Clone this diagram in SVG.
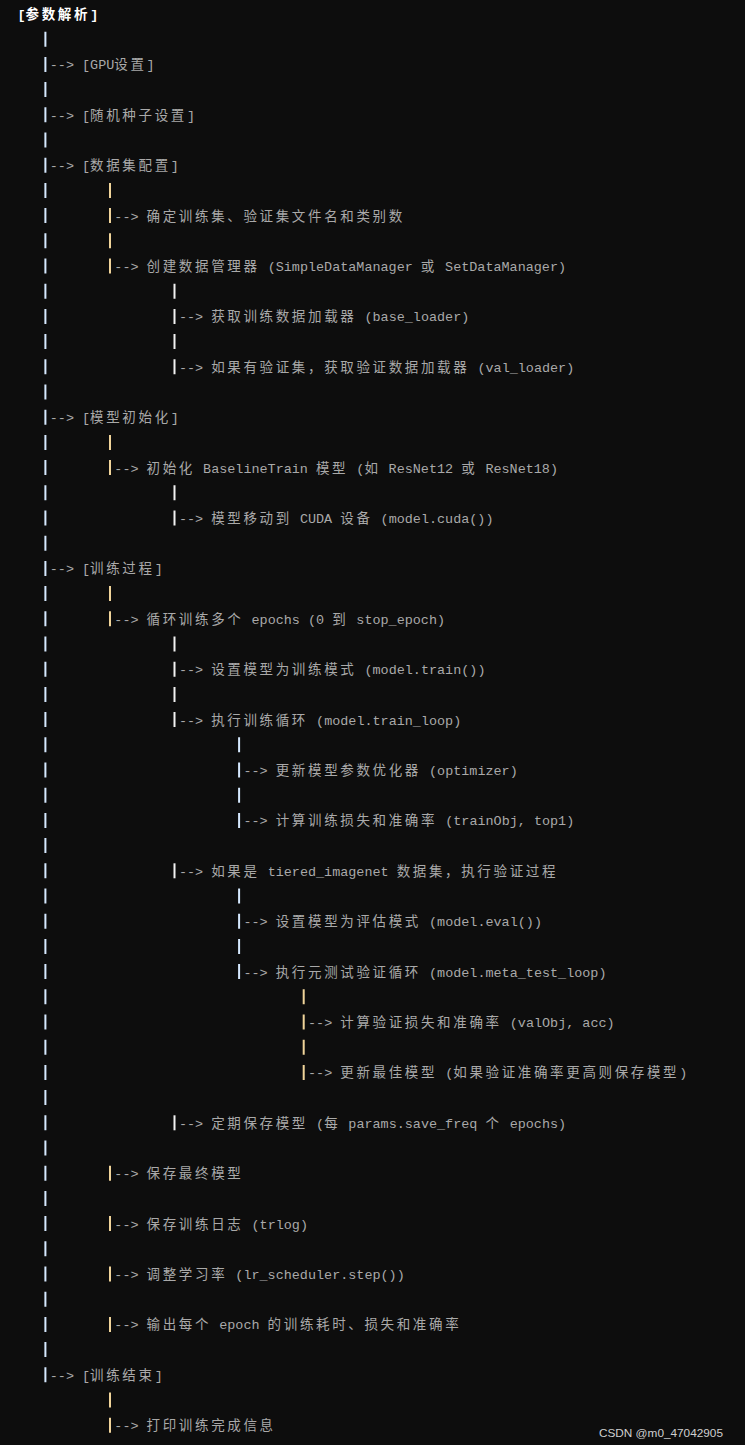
<svg xmlns="http://www.w3.org/2000/svg" width="745" height="1445" viewBox="0 0 745 1445">
<style>
.t{font-family:"Liberation Mono","DejaVu Sans Mono",monospace;font-size:13.45px;fill:#a9a9a9;white-space:pre}
.h{font-family:"Liberation Mono","DejaVu Sans Mono",monospace;font-size:13.45px;fill:#ffffff;font-weight:700;white-space:pre}
.z{font-family:"Noto Sans CJK SC","Noto Sans CJK JP",sans-serif;font-size:13.5px;letter-spacing:2.64px}
.p{stroke-width:2;stroke-dasharray:15 10.2;fill:none}
.p0{stroke:#d6e9ff}.p1{stroke:#f0d49a}.p2{stroke:#f2f2f2}.p3{stroke:#d6e9ff}.p4{stroke:#f0d49a}
.wm{font-family:"Liberation Sans","Noto Sans",sans-serif;font-size:11.8px;fill:#cfcfcf}
</style>
<rect x="0" y="0" width="745" height="1445" fill="#0d0d0d"/>
<g id="connectors">
<line class="p p0" x1="45.4" y1="31.7" x2="45.4" y2="1382.3"/>
<line class="p p1" x1="110" y1="182.9" x2="110" y2="273.5"/>
<line class="p p1" x1="110" y1="434.9" x2="110" y2="475.1"/>
<line class="p p1" x1="110" y1="586.1" x2="110" y2="626.3"/>
<line class="p p1" x1="110" y1="1165.7" x2="110" y2="1180.7"/>
<line class="p p1" x1="110" y1="1216.1" x2="110" y2="1231.1"/>
<line class="p p1" x1="110" y1="1266.5" x2="110" y2="1281.5"/>
<line class="p p1" x1="110" y1="1316.9" x2="110" y2="1331.9"/>
<line class="p p1" x1="110" y1="1392.5" x2="110" y2="1432.7"/>
<line class="p p2" x1="174.5" y1="283.7" x2="174.5" y2="374.3"/>
<line class="p p2" x1="174.5" y1="485.3" x2="174.5" y2="525.5"/>
<line class="p p2" x1="174.5" y1="636.5" x2="174.5" y2="727.1"/>
<line class="p p2" x1="174.5" y1="863.3" x2="174.5" y2="878.3"/>
<line class="p p2" x1="174.5" y1="1115.3" x2="174.5" y2="1130.3"/>
<line class="p p3" x1="239.1" y1="737.3" x2="239.1" y2="827.9"/>
<line class="p p3" x1="239.1" y1="888.5" x2="239.1" y2="979.1"/>
<line class="p p4" x1="303.7" y1="989.3" x2="303.7" y2="1079.9"/>
</g>
<g id="root"><text class="h" x="17.5" y="19">[<tspan class="z">参数解析</tspan>]</text></g>
<g id="gpu"><text class="t" x="49.78" y="69.4">--&gt; [GPU<tspan class="z">设置</tspan>]</text></g>
<g id="seed"><text class="t" x="49.78" y="119.8">--&gt; [<tspan class="z">随机种子设置</tspan>]</text></g>
<g id="dataset"><text class="t" x="49.78" y="170.2">--&gt; [<tspan class="z">数据集配置</tspan>]</text></g>
<g id="files"><text class="t" x="114.34" y="220.6">--&gt; <tspan class="z">确定训练集、验证集文件名和类别数</tspan></text></g>
<g id="manager"><text class="t" x="114.34" y="271">--&gt; <tspan class="z">创建数据管理器</tspan> (SimpleDataManager <tspan class="z">或</tspan> SetDataManager)</text></g>
<g id="baseloader"><text class="t" x="178.9" y="321.4">--&gt; <tspan class="z">获取训练数据加载器</tspan> (base_loader)</text></g>
<g id="valloader"><text class="t" x="178.9" y="371.8">--&gt; <tspan class="z">如果有验证集，获取验证数据加载器</tspan> (val_loader)</text></g>
<g id="modelinit"><text class="t" x="49.78" y="422.2">--&gt; [<tspan class="z">模型初始化</tspan>]</text></g>
<g id="baseline"><text class="t" x="114.34" y="472.6">--&gt; <tspan class="z">初始化</tspan> BaselineTrain <tspan class="z">模型</tspan> (<tspan class="z">如</tspan> ResNet12 <tspan class="z">或</tspan> ResNet18)</text></g>
<g id="cuda"><text class="t" x="178.9" y="523">--&gt; <tspan class="z">模型移动到</tspan> CUDA <tspan class="z">设备</tspan> (model.cuda())</text></g>
<g id="training"><text class="t" x="49.78" y="573.4">--&gt; [<tspan class="z">训练过程</tspan>]</text></g>
<g id="epochs"><text class="t" x="114.34" y="623.8">--&gt; <tspan class="z">循环训练多个</tspan> epochs (0 <tspan class="z">到</tspan> stop_epoch)</text></g>
<g id="trainmode"><text class="t" x="178.9" y="674.2">--&gt; <tspan class="z">设置模型为训练模式</tspan> (model.train())</text></g>
<g id="trainloop"><text class="t" x="178.9" y="724.6">--&gt; <tspan class="z">执行训练循环</tspan> (model.train_loop)</text></g>
<g id="optimizer"><text class="t" x="243.46" y="775">--&gt; <tspan class="z">更新模型参数优化器</tspan> (optimizer)</text></g>
<g id="trainloss"><text class="t" x="243.46" y="825.4">--&gt; <tspan class="z">计算训练损失和准确率</tspan> (trainObj, top1)</text></g>
<g id="tiered"><text class="t" x="178.9" y="875.8">--&gt; <tspan class="z">如果是</tspan> tiered_imagenet <tspan class="z">数据集，执行验证过程</tspan></text></g>
<g id="evalmode"><text class="t" x="243.46" y="926.2">--&gt; <tspan class="z">设置模型为评估模式</tspan> (model.eval())</text></g>
<g id="metatest"><text class="t" x="243.46" y="976.6">--&gt; <tspan class="z">执行元测试验证循环</tspan> (model.meta_test_loop)</text></g>
<g id="valloss"><text class="t" x="308.02" y="1027">--&gt; <tspan class="z">计算验证损失和准确率</tspan> (valObj, acc)</text></g>
<g id="best"><text class="t" x="308.02" y="1077.4">--&gt; <tspan class="z">更新最佳模型</tspan> (<tspan class="z">如果验证准确率更高则保存模型</tspan>)</text></g>
<g id="savefreq"><text class="t" x="178.9" y="1127.8">--&gt; <tspan class="z">定期保存模型</tspan> (<tspan class="z">每</tspan> params.save_freq <tspan class="z">个</tspan> epochs)</text></g>
<g id="savefinal"><text class="t" x="114.34" y="1178.2">--&gt; <tspan class="z">保存最终模型</tspan></text></g>
<g id="trlog"><text class="t" x="114.34" y="1228.6">--&gt; <tspan class="z">保存训练日志</tspan> (trlog)</text></g>
<g id="lr"><text class="t" x="114.34" y="1279">--&gt; <tspan class="z">调整学习率</tspan> (lr_scheduler.step())</text></g>
<g id="output"><text class="t" x="114.34" y="1329.4">--&gt; <tspan class="z">输出每个</tspan> epoch <tspan class="z">的训练耗时、损失和准确率</tspan></text></g>
<g id="end"><text class="t" x="49.78" y="1379.8">--&gt; [<tspan class="z">训练结束</tspan>]</text></g>
<g id="done"><text class="t" x="114.34" y="1430.2">--&gt; <tspan class="z">打印训练完成信息</tspan></text></g>
<text class="wm" x="723" y="1436.5" text-anchor="end">CSDN @m0_47042905</text>
</svg>
